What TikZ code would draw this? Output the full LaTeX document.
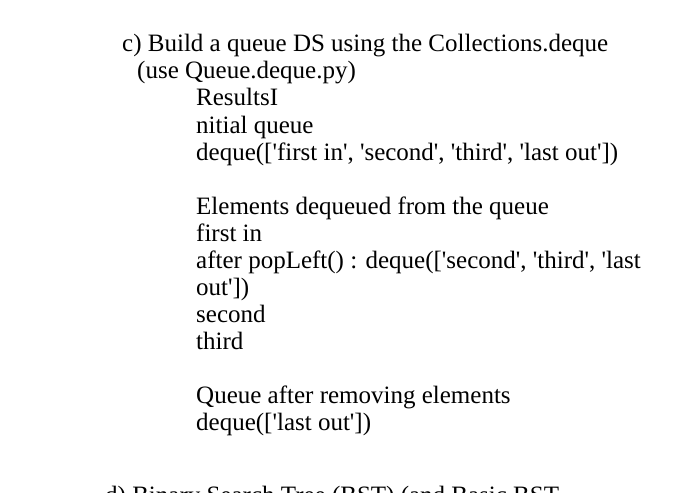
\documentclass[tikz,border=0pt]{standalone}
\usepackage{fontspec}
\setmainfont{Liberation Serif}[Ligatures=TeXOff]
\begin{document}
\begin{tikzpicture}[x=1pt,y=1pt,txt/.style={anchor=base west,inner sep=0pt,font=\fontsize{25}{27}\selectfont}]
\clip (0,0) rectangle (700,-492);
\fill[white] (0,0) rectangle (700,-492);
\node[txt] (l1) at (122,-52) {c) Build a queue DS using the Collections.deque};
\node[txt] (l2) at (137,-79) {(use Queue.deque.py)};
\node[txt] (l3) at (196,-106) {ResultsI};
\node[txt] (l4) at (196,-133) {nitial queue};
\node[txt] (l5) at (196,-160) {deque(['first in', 'second', 'third', 'last out'])};
\node[txt] (l6) at (196,-214) {Elements dequeued from the queue};
\node[txt] (l7) at (196,-241) {first in};
\node[txt] (l8) at (196,-268) {after popLeft() : deque(['second', 'third', 'last};
\node[txt] (l9) at (196,-295) {out'])};
\node[txt] (l10) at (196,-322) {second};
\node[txt] (l11) at (196,-349) {third};
\node[txt] (l12) at (196,-403) {Queue after removing elements};
\node[txt] (l13) at (196,-430) {deque(['last out'])};
\node[txt] (l14) at (105,-503) {d) Binary Search Tree (BST) (and Basic BST};
\end{tikzpicture}
\end{document}
